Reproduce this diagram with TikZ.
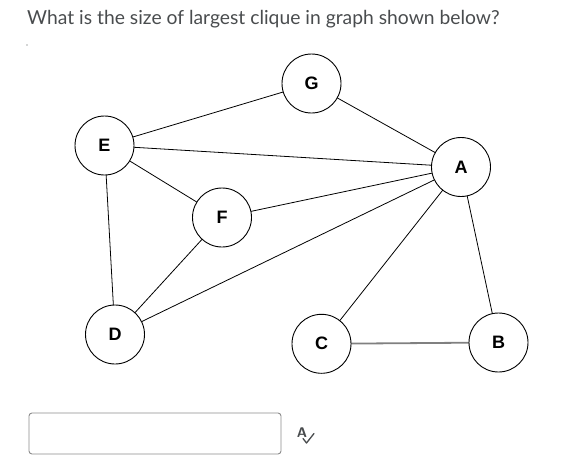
\documentclass[tikz,border=0pt]{standalone}
\usepackage{fontspec}
\setmainfont{Lato}
\newfontfamily\nodefont{Liberation Sans}
\usepackage{xcolor}
\usetikzlibrary{positioning, calc}
\definecolor{textgray}{HTML}{494C4E}
\definecolor{boxgray}{HTML}{8C8C8C}

\begin{document}
\begin{tikzpicture}[
  x=1pt, y=-1pt,
  vertex/.style={circle, draw=black, line width=0.9pt, fill=white,
                 minimum size=59pt, inner sep=0pt,
                 font=\nodefont\bfseries\fontsize{18}{18}\selectfont},
  edge/.style={black, line width=0.8pt},
  grayedge/.style={gray, line width=1.8pt},
  lbl/.style={font=\fontsize{19.3}{22}\selectfont, text=textgray}
]
  \useasboundingbox (0,0) rectangle (582,474);

  % Question text
  \node[lbl, anchor=base west, inner sep=0pt] (question) at (27,24)
    {What is the size of largest clique in graph shown below?};
  \fill[textgray] (27,45) circle (0.6pt);

  % Vertices
  \coordinate (cG) at (311.5,83.5);
  \coordinate (cE) at (104.5,145.5);
  \coordinate (cA) at (461,167);
  \coordinate (cF) at (222,217.5);
  \coordinate (cD) at (115,334.5);
  \coordinate (cC) at (321.5,343.8);
  \coordinate (cB) at (498.5,342.5);

  % Edges
  \foreach \u/\v in {E/G, G/A, E/A, E/F, F/A, D/A, E/D, D/F, C/A, A/B}{
    \draw[edge] (c\u) -- (c\v);
  }
  \draw[grayedge] (cC) -- (cB);

  % Vertex labels
  \foreach \n in {G, E, A, F, D, C, B}{
    \node[vertex] (\n) at (c\n) {\n};
  }

  % Answer box
  \draw[boxgray, line width=0.9pt, rounded corners=3pt]
    (29,413) rectangle (281,454);
  \node[inner sep=0pt, text=textgray,
        font=\fontsize{14}{14}\selectfont\sffamily\bfseries] (spell) at (302,432.5) {A};
  \draw[textgray, line width=1.3pt, line join=round, line cap=round]
    (303,438.5) -- (306.5,443) -- (314,433.5);
\end{tikzpicture}
\end{document}
